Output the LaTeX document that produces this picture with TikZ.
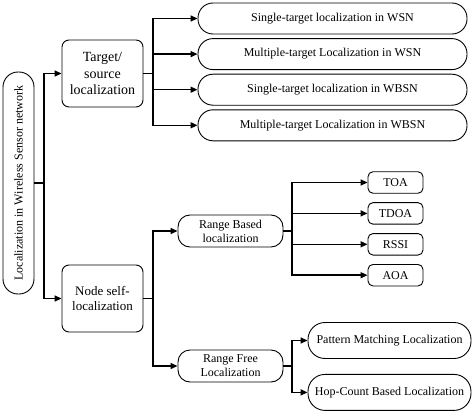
\documentclass[tikz,border=0pt]{standalone}
\usepackage{fontspec}
\setmainfont{Liberation Serif}
\usetikzlibrary{shapes.geometric, arrows}
\usetikzlibrary{positioning}
\usetikzlibrary{arrows.meta}
\tikzstyle{arrow} = [line width=1.5pt,->,>={Triangle[length=7pt,width=6pt]}]
\tikzstyle{stem} = [line width=1.5pt]

\begin{document}
\begin{tikzpicture}[x=1pt, y=-1pt, node distance=3.7pt, font=\fontsize{12}{14}\selectfont]
  \tikzstyle{pill}=[rectangle, rounded corners=15pt, draw, line width=0.9pt,
  minimum height=31pt, inner sep=2pt]
  \tikzstyle{box}=[rectangle, rounded corners=7pt, draw, line width=0.9pt,
  minimum width=81pt, minimum height=67pt, align=center, inner sep=2pt]
  \tikzstyle{tag}=[rectangle, rounded corners=5pt, draw, line width=0.9pt,
  minimum width=55pt, minimum height=21.5pt, inner sep=1pt]

  \useasboundingbox (0,0) rectangle (474,412);

  \node (root) [pill, rotate=90, minimum width=222pt] at (18.5,183)
  {Localization in Wireless Sensor network};

  \node (target) [box, font=\fontsize{14}{16.5}\selectfont] at (102.5,73.5)
  {Target/\\source\\localization};
  \node (self) [box, font=\fontsize{13}{15}\selectfont] at (102.5,298.5)
  {Node self-\\localization};

  \node (wsn1) [pill, minimum width=269pt] at (332.5,18.5) {Single-target localization in WSN};
  \node (wsn2) [pill, minimum width=269pt, below=of wsn1] {Multiple-target Localization in WSN};
  \node (wbsn1) [pill, minimum width=269pt, below=of wsn2] {Single-target localization in WBSN};
  \node (wbsn2) [pill, minimum width=269pt, below=of wbsn1] {Multiple-target Localization in WBSN};

  \node (rb) [pill, rounded corners=12pt, minimum width=105pt, minimum height=32pt,
    align=center] at (230.5,231) {Range Based\\localization};
  \node (rf) [pill, rounded corners=12pt, minimum width=105pt, minimum height=32pt,
    align=center] at (230.5,366) {Range Free\\Localization};

  \node (toa) [tag] at (395.5,182.5) {TOA};
  \node (tdoa) [tag, below=8.5pt of toa] {TDOA};
  \node (rssi) [tag, below=8.5pt of tdoa] {RSSI};
  \node (aoa) [tag, below=8.5pt of rssi] {AOA};

  \node (pml) [pill, rounded corners=17pt, minimum width=163pt, minimum height=36pt]
  at (389.5,340.5) {Pattern Matching Localization};
  \node (hcl) [pill, rounded corners=17pt, minimum width=163pt, minimum height=36pt,
    below=15pt of pml] {Hop-Count Based Localization};

  \coordinate (rfork) at (44,183);
  \coordinate (tfork) at (153,73.5);
  \coordinate (sfork) at (153,298.5);
  \coordinate (bfork) at (292,231);
  \coordinate (ffork) at (292,366);

  \draw[stem] (root) -- (rfork);
  \draw[arrow] (rfork) |- (target);
  \draw[arrow] (rfork) |- (self);

  \draw[stem] (target) -- (tfork);
  \foreach \n in {wsn1, wsn2, wbsn1, wbsn2}
  \draw[arrow] (tfork) |- (\n);

  \draw[stem] (self) -- (sfork);
  \draw[arrow] (sfork) |- (rb);
  \draw[arrow] (sfork) |- (rf);

  \draw[stem] (rb) -- (bfork);
  \foreach \n in {toa, tdoa, rssi, aoa}
  \draw[arrow] (bfork) |- (\n);

  \draw[stem] (rf) -- (ffork);
  \draw[arrow] (ffork) |- (pml);
  \draw[arrow] (ffork) |- (hcl);
\end{tikzpicture}
\end{document}
